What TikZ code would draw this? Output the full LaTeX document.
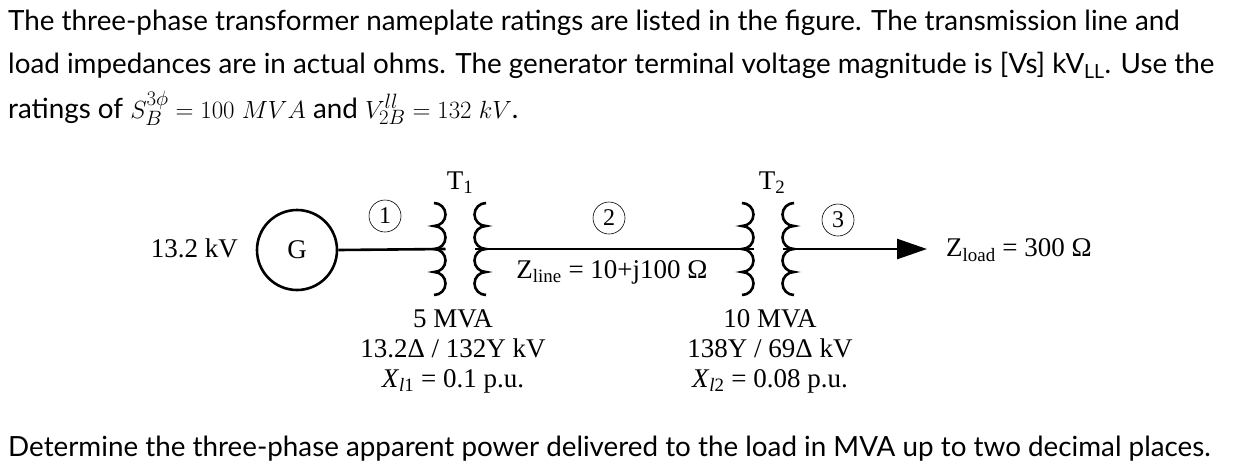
\documentclass[tikz,border=0pt]{standalone}
\usepackage{fontspec}
\usetikzlibrary{arrows.meta}
\setmainfont{Lato}
\newfontfamily\tnr{Liberation Serif}
\begin{document}
\begin{tikzpicture}[x=1pt,y=1pt,
  body/.style={anchor=base west,inner sep=0,font=\fontsize{27.8}{32}\selectfont},
  dg/.style={inner sep=0,font=\tnr\fontsize{27}{30}\selectfont},
  wire/.style={line width=2.6pt},
  coil/.style={line width=2.6pt},
  bus/.style={circle,draw,line width=0.6pt,minimum size=32pt,inner sep=0,font=\tnr\fontsize{24}{26}\selectfont}]
\useasboundingbox (0,0) rectangle (1242,-467);
\node[body] (l1) at (8,-30) {The three-phase transformer nameplate ratings are listed in the figure. The transmission line and};
\node[body] (l2) at (8,-73) {load impedances are in actual ohms. The generator terminal voltage magnitude is [Vs] kV\textsubscript{LL}. Use the};
\node[body] (l3) at (8,-118) {ratings of $S_B^{3\phi}=100\ MVA$ and $V_{2B}^{ll}=132\ kV$.};
\node[body] (l4) at (8,-456) {Determine the three-phase apparent power delivered to the load in MVA up to two decimal places.};
% generator
\node[circle,draw,line width=2.6pt,minimum size=80pt,inner sep=0,dg] (G) at (297,-250) {G};
\node[dg,anchor=east] (gv) at (238,-248) {13.2 kV};
% T1
\coordinate (t1a) at (434,-203);
\draw[coil] (t1a) arc[start angle=90,end angle=-90,radius=11.5] arc[start angle=90,end angle=-90,radius=11.5] arc[start angle=90,end angle=-90,radius=11.5] arc[start angle=90,end angle=-90,radius=11.5];
\coordinate (t1b) at (486,-203);
\draw[coil] (t1b) arc[start angle=90,end angle=270,radius=11.5] arc[start angle=90,end angle=270,radius=11.5] arc[start angle=90,end angle=270,radius=11.5] arc[start angle=90,end angle=270,radius=11.5];
\coordinate (t1l) at (445.5,-249);
\coordinate (t1r) at (474.5,-249);
\node[dg] (T1) at (460,-183) {T\textsubscript{1}};
% T2
\coordinate (t2a) at (742,-203);
\draw[coil] (t2a) arc[start angle=90,end angle=-90,radius=11.5] arc[start angle=90,end angle=-90,radius=11.5] arc[start angle=90,end angle=-90,radius=11.5] arc[start angle=90,end angle=-90,radius=11.5];
\coordinate (t2b) at (794,-203);
\draw[coil] (t2b) arc[start angle=90,end angle=270,radius=11.5] arc[start angle=90,end angle=270,radius=11.5] arc[start angle=90,end angle=270,radius=11.5] arc[start angle=90,end angle=270,radius=11.5];
\coordinate (t2l) at (753.5,-249);
\coordinate (t2r) at (782.5,-249);
\node[dg] (T2) at (772,-183) {T\textsubscript{2}};
% wires
\draw[wire] (G.east) -- (t1l);
\draw[wire] (t1r) -- (t2l);
\coordinate (ld) at (927,-249);
\draw[wire,-{Triangle[length=30pt,width=20pt]}] (t2r) -- (ld);
% buses
\node[bus] (b1) at (385,-216) {1};
\node[bus] (b2) at (609,-218) {2};
\node[bus] (b3) at (838,-220) {3};
% labels
\node[dg] (zl) at (612,-272) {Z\textsubscript{line} = 10+j100 Ω};
\node[dg,anchor=west] (zload) at (946,-250) {Z\textsubscript{load} = 300 Ω};
\node[dg,align=center] (r1) at (453,-351) {5 MVA\\13.2Δ / 132Y kV\\\textit{X}\textsubscript{\textit{l}1} = 0.1 p.u.};
\node[dg,align=center] (r2) at (770,-351) {10 MVA\\138Y / 69Δ kV\\\textit{X}\textsubscript{\textit{l}2} = 0.08 p.u.};
\end{tikzpicture}
\end{document}
